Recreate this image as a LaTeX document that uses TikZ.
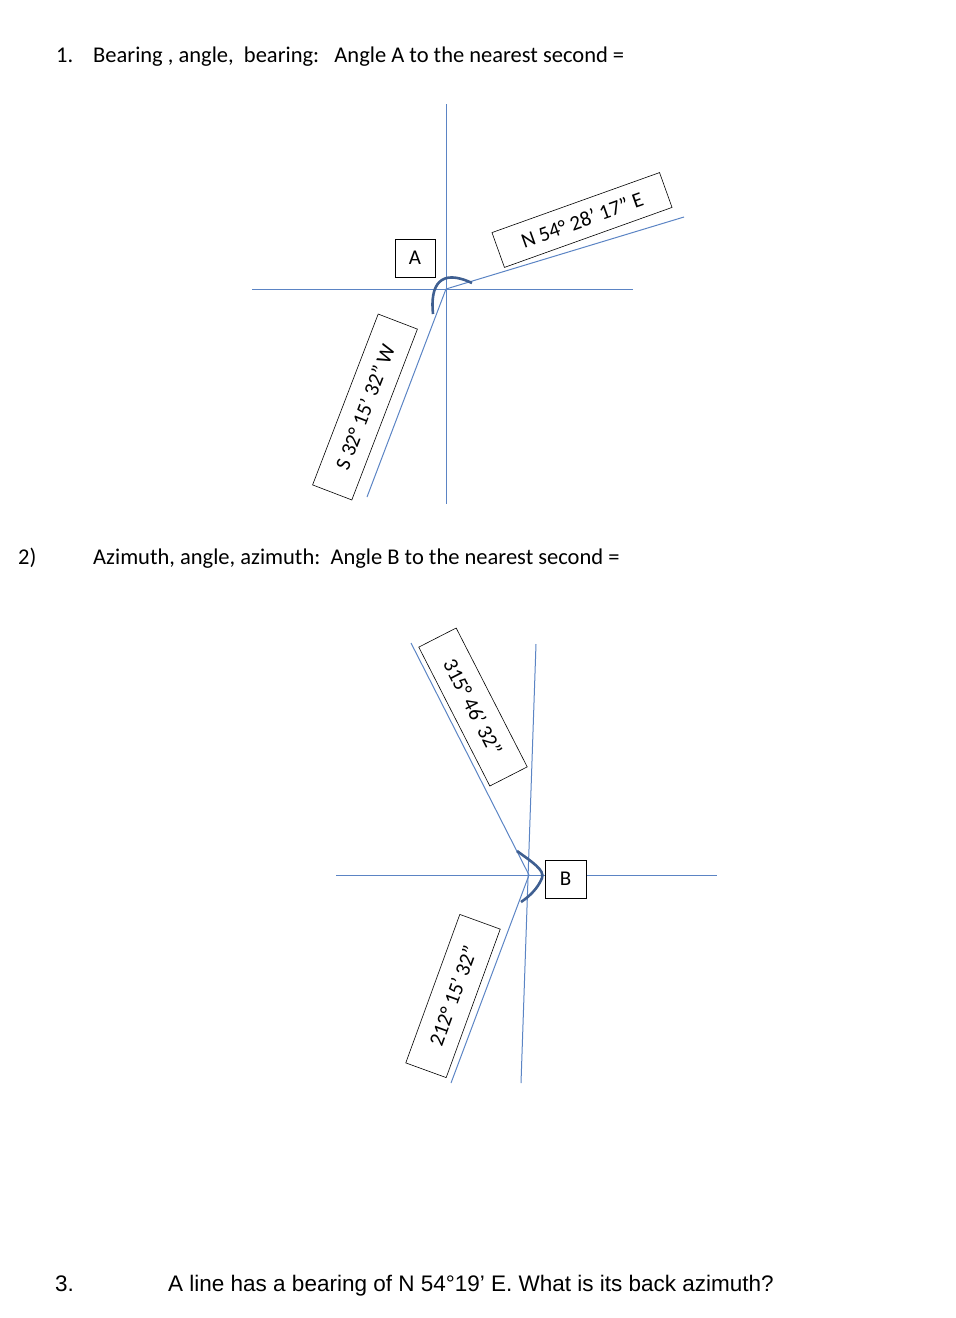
\documentclass[tikz,border=0pt]{standalone}
\usepackage{fontspec}
\setmainfont{Carlito}
\newfontfamily\arialf{Liberation Sans}
\definecolor{ln}{HTML}{5B84C4}
\definecolor{arcc}{HTML}{3F5F91}
\begin{document}
\begin{tikzpicture}[x=1pt,y=-1pt,
  bl/.style={draw=ln,line width=1pt},
  arcs/.style={draw=arcc,line width=2.6pt},
  lab/.style={draw=black,line width=0.6pt,fill=white,font=\fontsize{21}{24}\selectfont,inner sep=0pt,minimum height=38pt},
  ttl/.style={anchor=base west,inner sep=0pt,font=\fontsize{22.5}{26}\selectfont}]
\useasboundingbox (0,0) rectangle (956,1318);
% texts
\node[ttl] (t1n) at (56,62) {1.};
\node[ttl] (t1) at (93,62) {Bearing , angle,\ \ bearing:\ \ \ Angle A to the nearest second =};
\node[ttl] (t2n) at (18,564) {2)};
\node[ttl] (t2) at (93,564) {Azimuth, angle, azimuth:\ \ Angle B to the nearest second =};
\node[ttl,font=\arialf\fontsize{22.5}{26}\selectfont] (t3n) at (55,1291) {3.};
\node[ttl,font=\arialf\fontsize{22.5}{26}\selectfont] (t3) at (168,1291) {A line has a bearing of N 54°19’ E. What is its back azimuth?};
% diagram A
\coordinate (A0) at (446,289);
\coordinate (An) at (446,104); \coordinate (As) at (446,504);
\coordinate (Aw) at (252,289); \coordinate (Ae) at (633,289);
\coordinate (Ane) at (684,217); \coordinate (Asw) at (367,497);
\draw[bl] (An) -- (As);
\draw[bl] (Aw) -- (Ae);
\draw[bl] (A0) -- (Ane);
\draw[bl] (A0) -- (Asw);
\node[lab,minimum width=40pt,minimum height=38pt] (boxA) at (415,258) {A};
\node[lab,minimum width=178pt,minimum height=37pt,rotate=19.7] (labNE) at (582,220) {N 54° 28’ 17” E};
\node[lab,minimum width=183pt,minimum height=42pt,rotate=69] (labSW) at (365,407) {S 32° 15’ 32” W};
\draw[arcs] (433,314) .. controls (430,285) and (440,268) .. (472,283);
% diagram B
\coordinate (B0) at (529,875);
\coordinate (Bn) at (536,644); \coordinate (Bs) at (521,1083);
\coordinate (Bw) at (336,875); \coordinate (Be) at (717,875);
\coordinate (Bnw) at (411,643); \coordinate (Bsw) at (451,1083);
\draw[bl] (Bn) -- (Bs);
\draw[bl] (Bw) -- (Be);
\draw[bl] (B0) -- (Bnw);
\draw[bl] (B0) -- (Bsw);
\node[lab,minimum width=41pt,minimum height=38pt] (boxB) at (565.5,879) {B};
\node[lab,minimum width=156pt,minimum height=42pt,rotate=-62.9] (labNW) at (473,707) {315° 46’ 32”};
\node[lab,minimum width=158pt,minimum height=43pt,rotate=70] (labSW2) at (453,996) {212° 15’ 32”};
\draw[arcs] (517,851) .. controls (532,862) and (545,870) .. (542,878) .. controls (538,888) and (530,896) .. (521,902);
\end{tikzpicture}
\end{document}
